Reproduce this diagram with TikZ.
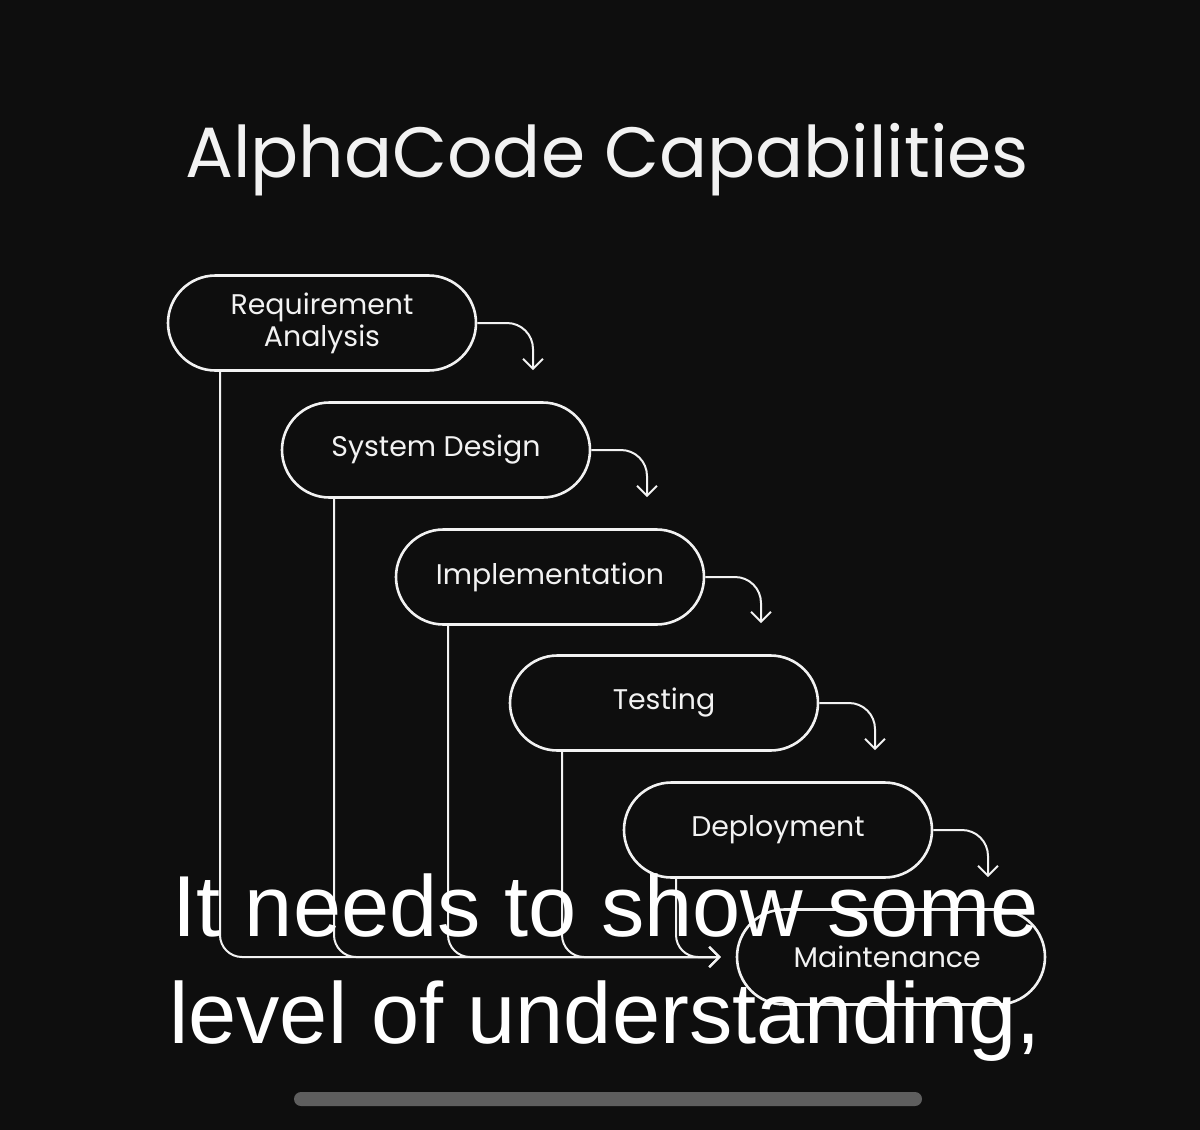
\documentclass[tikz,border=0pt]{standalone}
\usepackage{fontspec}
\setmainfont{Poppins}
\newfontfamily\capfont{Liberation Sans}
\usetikzlibrary{shapes.misc, arrows.meta, positioning, calc}
\definecolor{alphabg}{HTML}{0E0E0E}
\definecolor{alphaline}{HTML}{F2F2F2}
\definecolor{alphabar}{HTML}{5E5E5E}

\begin{document}
\begin{tikzpicture}[x=0.5pt, y=-0.5pt,
  stage/.style={rounded rectangle, draw=alphaline, line width=1.3pt, fill=alphabg,
    text=alphaline, minimum width=154pt, minimum height=47.5pt, inner sep=0pt,
    align=center, font=\fontsize{14.2}{16}\selectfont},
  flow/.style={alphaline, line width=1pt, rounded corners=13pt,
    -{Straight Barb[length=5pt,width=10pt]}, shorten >=15.5pt},
  back/.style={alphaline, line width=1pt, rounded corners=11pt,
    -{Straight Barb[length=5pt,width=10pt]}, shorten >=7.5pt},
  caption/.style={font=\capfont\fontsize{43.3}{53.5}\selectfont, text=white, anchor=base}
]
  % Background
  \fill[alphabg] (0,0) rectangle (1200,1130);

  \node[font=\fontsize{35.6}{38}\selectfont, text=alphaline, anchor=base] (title)
    at (607,177) {AlphaCode Capabilities};

  % Stages
  \foreach \x/\y/\id/\label in {
    322/323/req/{Requirement\\Analysis},
    436/450/design/System Design,
    550/577/impl/Implementation,
    664/703/test/Testing,
    778/830/deploy/Deployment,
    891/957/maint/Maintenance
  } {
    \node[stage] (\id) at (\x,\y) {\label};
  }

  % Step arrows
  \foreach \a/\b in {req/design, design/impl, impl/test, test/deploy, deploy/maint} {
    \draw[flow] (\a.east) -| ($(\b.north)+(97,0)$);
  }

  % Feedback lines into maintenance
  \foreach \a in {req, design, impl, test, deploy} {
    \draw[back] ($(\a.south)+(-102,0)$) |- (maint.west);
  }

  % Subtitle overlay
  \node[caption] (sub1) at (606,936) {It needs to show some};
  \node[caption] (sub2) at (605,1043) {level of understanding,};

  % Scroll bar
  \fill[alphabar, rounded corners=3.5pt] (294,1092) rectangle (922,1106);
\end{tikzpicture}
\end{document}
